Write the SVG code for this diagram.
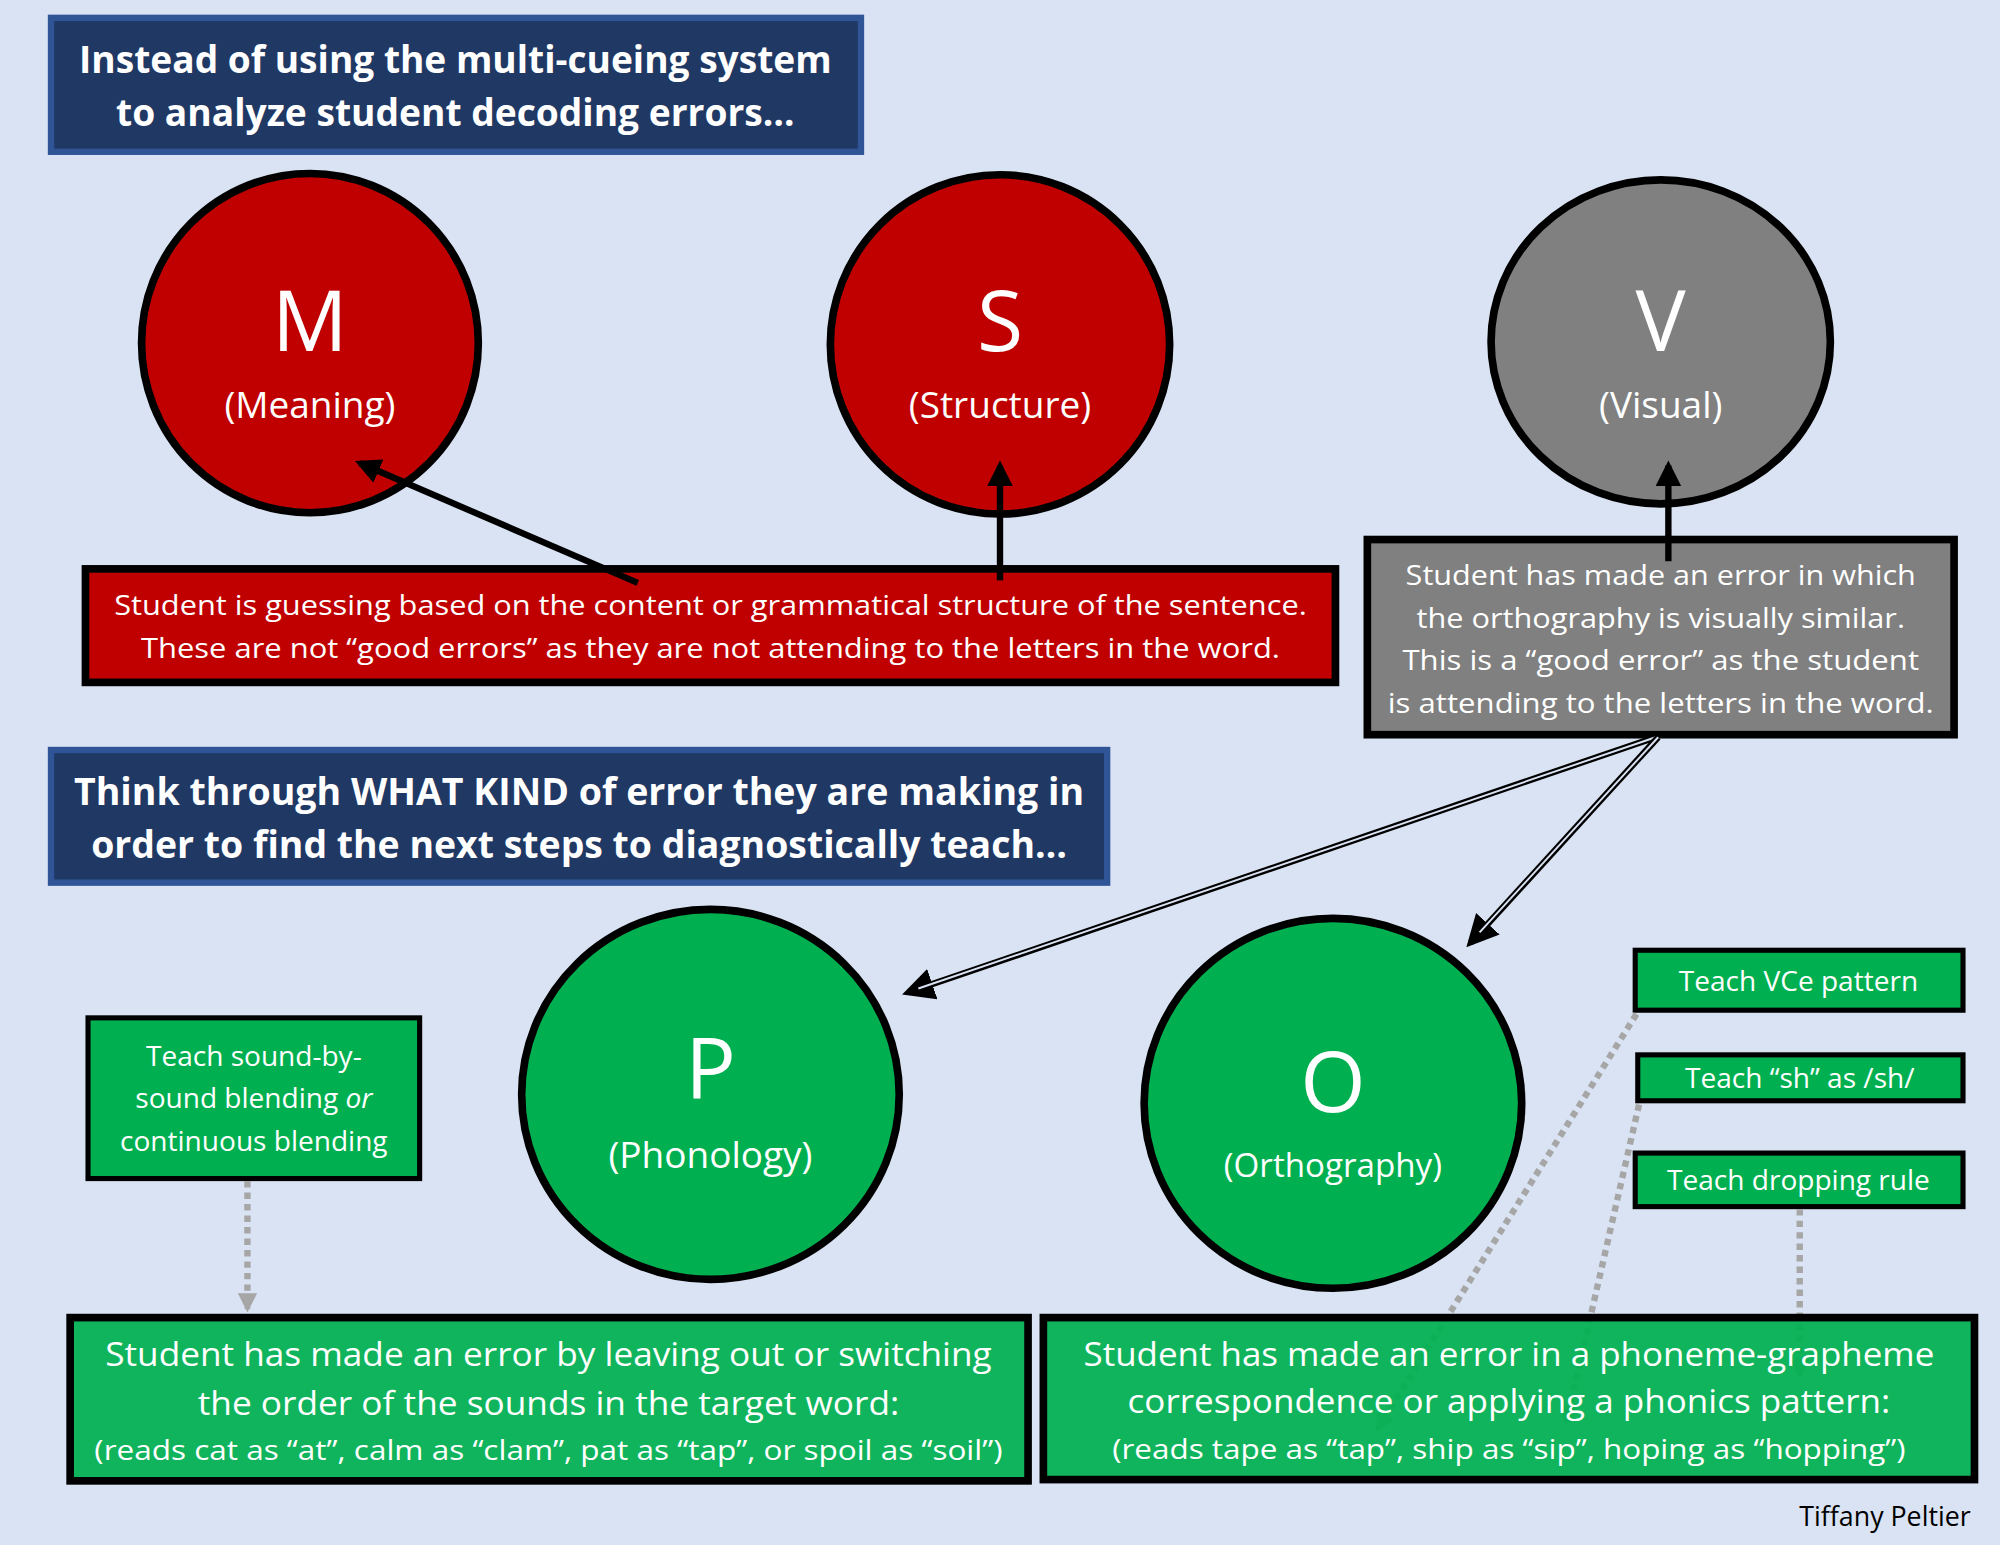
<svg xmlns="http://www.w3.org/2000/svg" width="2000" height="1545" viewBox="0 0 2000 1545">
<defs>
<style>
text{font-family:"Open Sans","Noto Sans",sans-serif;fill:#fff;text-anchor:middle}
.b{font-weight:bold}
.circ{stroke:#000;stroke-width:6}
.box{stroke:#000;stroke-width:6}
.conn{stroke:#000;stroke-width:5;fill:none}
.dot{stroke:#a6a6a6;stroke-width:5;stroke-dasharray:5 4;fill:none}
</style>
<marker id="ah" viewBox="0 0 10 10" refX="8" refY="5" markerWidth="4" markerHeight="4" orient="auto" markerUnits="strokeWidth"><path d="M0,0L10,5L0,10z" fill="#000"/></marker>
<marker id="ah2" viewBox="0 0 10 10" refX="8" refY="5" markerWidth="5" markerHeight="5" orient="auto" markerUnits="strokeWidth"><path d="M0,0L10,5L0,10z" fill="#000"/></marker>
<marker id="ag" viewBox="0 0 10 10" refX="8" refY="5" markerWidth="3" markerHeight="3" orient="auto" markerUnits="strokeWidth"><path d="M0,0L10,5L0,10z" fill="#a6a6a6"/></marker>
</defs>
<rect width="2000" height="1545" fill="#dae3f3"/>
<g transform="scale(1.27551)">
<g id="title1"><rect x="40" y="14" width="635" height="105" fill="#203864" stroke="#2f5597" stroke-width="5"/>
<text class="b" x="357" y="57" font-size="29" textLength="590" lengthAdjust="spacingAndGlyphs">Instead of using the multi-cueing system</text>
<text class="b" x="357" y="99" font-size="29" textLength="532" lengthAdjust="spacingAndGlyphs">to analyze student decoding errors…</text></g>
<g id="M"><ellipse cx="243" cy="269" rx="132" ry="133" fill="#c00000" class="circ"/>
<text x="243" y="275" font-size="66">M</text><text x="243" y="328" font-size="29">(Meaning)</text></g>
<g id="S"><ellipse cx="784" cy="270" rx="133" ry="133" fill="#c00000" class="circ"/>
<text x="784" y="275" font-size="66">S</text><text x="784" y="328" font-size="29">(Structure)</text></g>
<g id="V"><ellipse cx="1302" cy="268" rx="133" ry="127" fill="#808080" class="circ"/>
<text x="1302" y="275" font-size="66">V</text><text x="1302" y="328" font-size="29">(Visual)</text></g>
<g id="redbox"><rect x="67" y="446" width="980" height="89" fill="#c00000" class="box"/>
<text x="557" y="482" font-size="22" textLength="935" lengthAdjust="spacingAndGlyphs">Student is guessing based on the content or grammatical structure of the sentence.</text>
<text x="557" y="516" font-size="22" textLength="893" lengthAdjust="spacingAndGlyphs">These are not “good errors” as they are not attending to the letters in the word.</text></g>
<g id="greybox"><rect x="1072" y="423" width="460" height="153" fill="#808080" class="box"/>
<text x="1302" y="459" font-size="22" textLength="400" lengthAdjust="spacingAndGlyphs">Student has made an error in which</text>
<text x="1302" y="492" font-size="22" textLength="383" lengthAdjust="spacingAndGlyphs">the orthography is visually similar.</text>
<text x="1302" y="525" font-size="22" textLength="405" lengthAdjust="spacingAndGlyphs">This is a “good error” as the student</text>
<text x="1302" y="559" font-size="22" textLength="428" lengthAdjust="spacingAndGlyphs">is attending to the letters in the word.</text></g>
<g id="title2"><rect x="40" y="588" width="828" height="104" fill="#203864" stroke="#2f5597" stroke-width="5"/>
<text class="b" x="454" y="631" font-size="29" textLength="792" lengthAdjust="spacingAndGlyphs">Think through WHAT KIND of error they are making in</text>
<text class="b" x="454" y="673" font-size="29" textLength="765" lengthAdjust="spacingAndGlyphs">order to find the next steps to diagnostically teach…</text></g>
<g id="P"><ellipse cx="557" cy="858" rx="148" ry="145" fill="#00b050" class="circ" stroke-width="7"/>
<text x="557" y="862" font-size="66">P</text><text x="557" y="916" font-size="29">(Phonology)</text></g>
<g id="O"><ellipse cx="1045" cy="865" rx="148" ry="145" fill="#00b050" class="circ" stroke-width="7"/>
<text x="1045" y="872" font-size="66">O</text><text x="1045" y="923" font-size="26">(Orthography)</text></g>
<g id="teach1"><rect x="69" y="798" width="260" height="126" fill="#00b050" stroke="#000" stroke-width="4"/>
<text x="199" y="836" font-size="22">Teach sound-by-</text>
<text x="199" y="869" font-size="22">sound blending <tspan font-style="italic">or</tspan></text>
<text x="199" y="902" font-size="22">continuous blending</text></g>
<g id="teachVCe"><rect x="1282" y="745" width="257" height="47" fill="#00b050" stroke="#000" stroke-width="4"/>
<text x="1410" y="777" font-size="22">Teach VCe pattern</text></g>
<g id="teachSh"><rect x="1284" y="827" width="255" height="36" fill="#00b050" stroke="#000" stroke-width="4"/>
<text x="1411" y="853" font-size="22">Teach “sh” as /sh/</text></g>
<g id="teachDrop"><rect x="1282" y="904" width="257" height="42" fill="#00b050" stroke="#000" stroke-width="4"/>
<text x="1410" y="933" font-size="22">Teach dropping rule</text></g>
<g id="connectors">
<line class="conn" x1="500" y1="457" x2="282" y2="363" marker-end="url(#ah)"/>
<line class="conn" x1="784" y1="455" x2="784" y2="365" marker-end="url(#ah)"/>
<line class="conn" x1="1308" y1="440" x2="1308" y2="365" marker-end="url(#ah)"/>
<line class="conn" x1="1298" y1="578" x2="712" y2="778" stroke-width="4" marker-end="url(#ah2)"/>
<line x1="1298" y1="578" x2="720" y2="775" stroke="#dae3f3" stroke-width="1.5"/>
<line class="conn" x1="1300" y1="578" x2="1153" y2="739" stroke-width="4" marker-end="url(#ah2)"/>
<line x1="1300" y1="578" x2="1160" y2="731" stroke="#dae3f3" stroke-width="1.5"/>
<line class="dot" x1="194" y1="926" x2="194" y2="1026" marker-end="url(#ag)"/>
<line class="dot" x1="1283" y1="795" x2="1080" y2="1120" marker-end="url(#ag)"/>
<line class="dot" x1="1285" y1="866" x2="1228" y2="1115" marker-end="url(#ag)"/>
<line class="dot" x1="1411" y1="948" x2="1411" y2="1078" marker-end="url(#ag)"/>
</g>
<g id="bottomLeft"><rect x="55" y="1033" width="751" height="128" fill="#00b050" class="box" fill-opacity="0.93"/>
<text x="430" y="1071" font-size="26" textLength="695" lengthAdjust="spacingAndGlyphs">Student has made an error by leaving out or switching</text>
<text x="430" y="1109" font-size="26" textLength="550" lengthAdjust="spacingAndGlyphs">the order of the sounds in the target word:</text>
<text x="430" y="1145" font-size="21" textLength="712" lengthAdjust="spacingAndGlyphs">(reads cat as “at”, calm as “clam”, pat as “tap”, or spoil as “soil”)</text></g>
<g id="bottomRight"><rect x="818" y="1033" width="730" height="127" fill="#00b050" class="box" fill-opacity="0.93"/>
<text x="1183" y="1071" font-size="26" textLength="667" lengthAdjust="spacingAndGlyphs">Student has made an error in a phoneme-grapheme</text>
<text x="1183" y="1108" font-size="26" textLength="598" lengthAdjust="spacingAndGlyphs">correspondence or applying a phonics pattern:</text>
<text x="1183" y="1144" font-size="21" textLength="622" lengthAdjust="spacingAndGlyphs">(reads tape as “tap”, ship as “sip”, hoping as “hopping”)</text></g>
<text x="1545" y="1196" font-size="21" style="fill:#000;text-anchor:end">Tiffany Peltier</text>
</g>
</svg>
